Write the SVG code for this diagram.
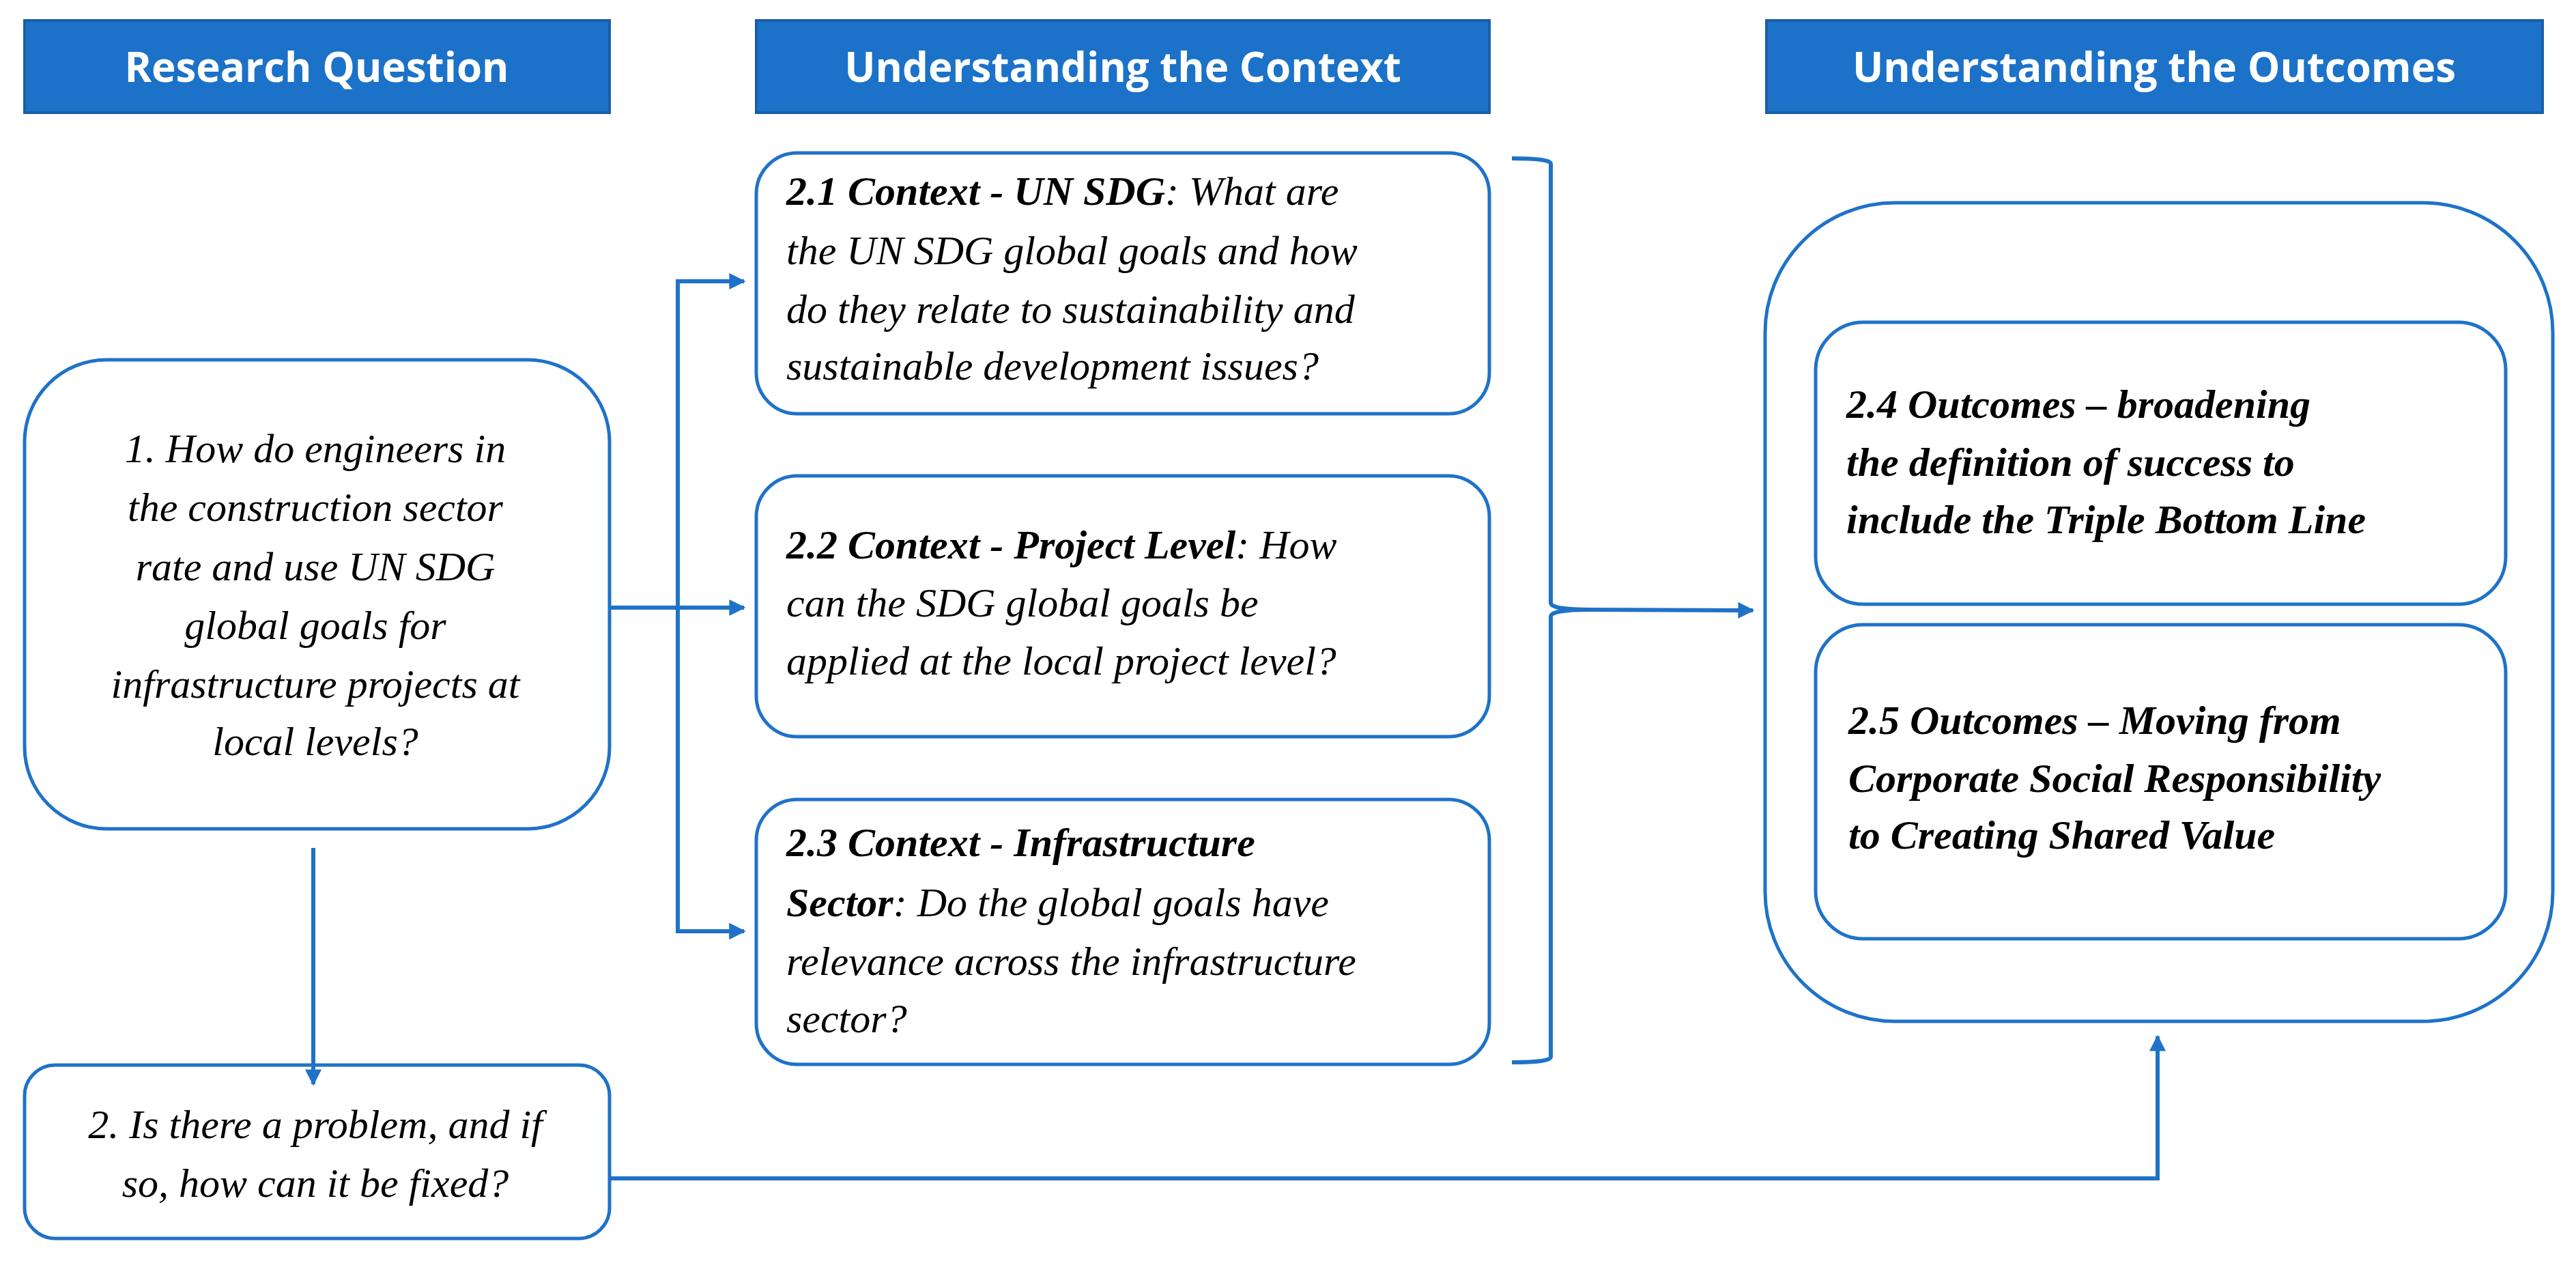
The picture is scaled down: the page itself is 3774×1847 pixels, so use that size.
<svg xmlns="http://www.w3.org/2000/svg" width="3774" height="1847" viewBox="0 0 3774 1847">
<style>
.hdr{fill:#1b72c8;stroke:#1a5ea8;stroke-width:4}
.ht{font-family:"Open Sans",sans-serif;font-weight:bold;font-size:60px;fill:#fff;text-anchor:middle}
.box{fill:#fff;stroke:#1f72c8;stroke-width:5}
.t{font-family:"Liberation Serif",serif;font-style:italic;font-size:60px;fill:#000}
.c{text-anchor:middle}
.b{font-weight:bold}
.ln{fill:none;stroke:#1f72c8;stroke-width:6}
</style>
<defs><marker id="a" viewBox="0 0 10 10" refX="9" refY="5" markerWidth="4" markerHeight="4" orient="auto"><path d="M0,0L10,5L0,10z" fill="#1f72c8"/></marker></defs>
<g id="h1"><rect class="hdr" x="36" y="30" width="857" height="135"/><text class="ht" x="464" y="120">Research Question</text></g>
<g id="h2"><rect class="hdr" x="1108" y="30" width="1074" height="135"/><text class="ht" x="1645" y="120">Understanding the Context</text></g>
<g id="h3"><rect class="hdr" x="2588" y="30" width="1137" height="135"/><text class="ht" x="3156" y="120">Understanding the Outcomes</text></g>
<g id="q1"><rect class="box" x="36" y="527" width="857" height="687" rx="120"/>
<text class="t c"><tspan x="462" y="677">1. How do engineers in</tspan><tspan x="462" y="763">the construction sector</tspan><tspan x="462" y="850">rate and use UN SDG</tspan><tspan x="462" y="936">global goals for</tspan><tspan x="462" y="1022">infrastructure projects at</tspan><tspan x="462" y="1106">local levels?</tspan></text></g>
<g id="q2"><rect class="box" x="36" y="1560" width="857" height="254" rx="45"/>
<text class="t c"><tspan x="462" y="1667">2. Is there a problem, and if</tspan><tspan x="462" y="1753">so, how can it be fixed?</tspan></text></g>
<g id="c1"><rect class="box" x="1108" y="224" width="1074" height="382" rx="60"/>
<text class="t"><tspan x="1152" y="300"><tspan class="b">2.1 Context - UN SDG</tspan>:  What are</tspan><tspan x="1152" y="387">the UN SDG global goals and how</tspan><tspan x="1152" y="473">do they relate to sustainability and</tspan><tspan x="1152" y="556">sustainable development issues?</tspan></text></g>
<g id="c2"><rect class="box" x="1108" y="697" width="1074" height="382" rx="60"/>
<text class="t"><tspan x="1152" y="818"><tspan class="b">2.2 Context - Project Level</tspan>: How</tspan><tspan x="1152" y="903">can the SDG global goals be</tspan><tspan x="1152" y="988">applied at the local project level?</tspan></text></g>
<g id="c3"><rect class="box" x="1108" y="1171" width="1074" height="388" rx="60"/>
<text class="t"><tspan x="1152" y="1254" class="b">2.3 Context - Infrastructure</tspan><tspan x="1152" y="1342"><tspan class="b">Sector</tspan>: Do the global goals have</tspan><tspan x="1152" y="1428">relevance across the infrastructure</tspan><tspan x="1152" y="1512">sector?</tspan></text></g>
<g id="o"><rect class="box" x="2586" y="297" width="1154" height="1199" rx="190"/></g>
<g id="o1"><rect class="box" x="2660" y="472" width="1011" height="413" rx="70"/>
<text class="t b"><tspan x="2705" y="612">2.4  Outcomes – broadening</tspan><tspan x="2705" y="697">the definition of success to</tspan><tspan x="2705" y="781">include the Triple Bottom Line</tspan></text></g>
<g id="o2"><rect class="box" x="2660" y="915" width="1011" height="460" rx="70"/>
<text class="t b"><tspan x="2708" y="1075">2.5  Outcomes – Moving from</tspan><tspan x="2708" y="1160">Corporate Social Responsibility</tspan><tspan x="2708" y="1243">to Creating Shared Value</tspan></text></g>
<g id="connectors">
<path class="ln" d="M893,890H1090" marker-end="url(#a)"/>
<path class="ln" d="M1090,412H993V1364H1090" marker-end="url(#a)"/>
<path class="ln" d="M1050,1364H1090" marker-end="url(#a)"/>
<path class="ln" d="M1050,412H1090" marker-end="url(#a)"/>
<path class="ln" d="M459,1242V1588" marker-end="url(#a)"/>
<path class="ln" d="M893,1726H3161V1518" marker-end="url(#a)"/>
<path class="ln" d="M2215,232Q2272,232 2272,240V883Q2272,893 2330,893Q2272,893 2272,903V1548Q2272,1556 2215,1556"/>
<path class="ln" d="M2330,893L2568,894" marker-end="url(#a)"/>
</g>
</svg>
